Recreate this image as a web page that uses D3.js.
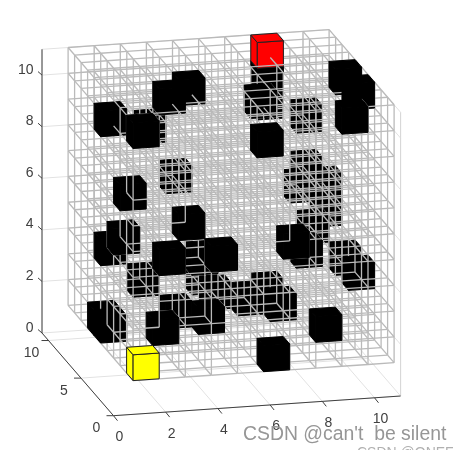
<!DOCTYPE html>
<html><head><meta charset="utf-8">
<script src="https://cdn.jsdelivr.net/npm/d3@7/dist/d3.min.js"></script>
<style>html,body{margin:0;padding:0;background:#fff;overflow:hidden}svg{display:block;filter:blur(0.35px)}text{font-family:"Liberation Sans",Arial,sans-serif;white-space:pre}</style>
</head><body><svg id="c" width="462" height="450"></svg>
<script>
// Data: obstacle cells (lower corner), start and goal cells, ticks
const cubeX=[1,1,3,3,4,4,1,3,1,1,2,2,1,1,2,3,4,6,8,10,10,8,7,10,10,9,6,9,8,7,8,9,9,10,10,9,4,7,6,7,5,4,5];
const cubeY=[6,1,8,5,6,8,3,2,6,4,1,5,6,7,2,4,3,1,1,4,6,4,2,6,4,1,2,8,10,7,10,8,9,9,9,7,1,4,5,6,6,4,8];
const cubeZ=[9,10,8,10,10,6,7,6,4,5,5,3,1,1,2,2,2,1,2,3,3,4,5,10,10,10,9,8,9,9,8,6,5,5,4,4,5,2,2,2,2,4,2];
const startCell=[1,1,1], goalCell=[8,10,10];
const xTicks=[0,2,4,6,8,10], yTicks=[0,5,10], zTicks=[0,2,4,6,8,10];
const gridLevels=[1,2,3,4,5,6,7,8,9,10,11];
const axisMax=11;

// Orthographic projection built from linear scales
const xToX=d3.scaleLinear().domain([0,axisMax]).range([0,287.1]);
const yToX=d3.scaleLinear().domain([0,axisMax]).range([0,-71.5]);
const xToY=d3.scaleLinear().domain([0,axisMax]).range([0,-19.7]);
const yToY=d3.scaleLinear().domain([0,axisMax]).range([0,-82.7]);
const zToY=d3.scaleLinear().domain([0,axisMax]).range([0,-283.7]);
const px=(x,y)=>113.5+xToX(x)+yToX(y);
const py=(x,y,z)=>415.7+xToY(x)+yToY(y)+zToY(z);
const P=(x,y,z)=>[px(x,y),py(x,y,z)];
const depth=(x,y,z)=>167.7*x+673.4*y-207.4*z;

const svg=d3.select("#c");
const gridColor="#e2e2e2", axisColor="#404040", latticeColor="#bababa";
const seg=(g,a,b,col,w)=>g.append("line").attr("x1",a[0]).attr("y1",a[1]).attr("x2",b[0]).attr("y2",b[1]).attr("stroke",col).attr("stroke-width",w);

// pale axes grid on the walls and floor
const wall=svg.append("g");
xTicks.forEach(t=>{seg(wall,P(t,0,0),P(t,axisMax,0),gridColor,1);seg(wall,P(t,axisMax,0),P(t,axisMax,axisMax),gridColor,1);});
yTicks.forEach(t=>{seg(wall,P(0,t,0),P(axisMax,t,0),gridColor,1);seg(wall,P(axisMax,t,0),P(axisMax,t,axisMax),gridColor,1);});
zTicks.forEach(t=>{seg(wall,P(0,axisMax,t),P(axisMax,axisMax,t),gridColor,1);seg(wall,P(axisMax,axisMax,t),P(axisMax,0,t),gridColor,1);});
seg(wall,P(axisMax,0,0),P(axisMax,0,axisMax),"#d8d8d8",1);
seg(wall,P(axisMax,0,axisMax),P(axisMax,axisMax,axisMax),gridColor,1);
seg(wall,P(0,axisMax,axisMax),P(axisMax,axisMax,axisMax),gridColor,1);

// painter's list: lattice unit segments + cubes
const items=[];
const lv=gridLevels, steps=lv.slice(0,-1);
lv.forEach(a=>lv.forEach(b=>steps.forEach(s=>{
  items.push({t:"s",a:[s,a,b],b:[s+1,a,b],d:depth(s+.5,a,b)});
  items.push({t:"s",a:[a,s,b],b:[a,s+1,b],d:depth(a,s+.5,b)});
  items.push({t:"s",a:[a,b,s],b:[a,b,s+1],d:depth(a,b,s+.5)});
})));
// cubes sit forward of the lattice: fewer lines cross them, fewest in the top layers
const addCube=(x,y,z,fill,edge)=>items.push({t:"c",x,y,z,fill,edge,d:depth(x,y,z+1)-700-(z>=9?800:0)});
cubeX.forEach((x,i)=>addCube(x,cubeY[i],cubeZ[i],"#000","#000"));
addCube(...startCell,"#ffff00","#222");
addCube(...goalCell,"#ff0000","#222");
items.sort((p,q)=>q.d-p.d);

const poly=pts=>"M"+pts.map(p=>p.join(",")).join("L")+"Z";
const scene=svg.append("g");
scene.selectAll("g.i").data(items).join(enter=>enter.append("g").each(function(d){
  const g=d3.select(this);
  if(d.t==="s"){
    seg(g,P(...d.a),P(...d.b),latticeColor,1.3);
  }else{
    const {x,y,z}=d;
    const faces=[
      [[x,y,z],[x,y+1,z],[x,y+1,z+1],[x,y,z+1]],
      [[x,y,z],[x+1,y,z],[x+1,y,z+1],[x,y,z+1]],
      [[x,y,z+1],[x+1,y,z+1],[x+1,y+1,z+1],[x,y+1,z+1]]
    ];
    faces.forEach(f=>g.append("path").attr("d",poly(f.map(c=>P(...c)))).attr("fill",d.fill).attr("stroke",d.edge).attr("stroke-width",1).attr("stroke-linejoin","round"));
  }
}));

// axes
const ax=svg.append("g");
seg(ax,P(0,axisMax,0),P(0,axisMax,axisMax),axisColor,1);
seg(ax,P(0,0,0),P(0,axisMax,0),axisColor,1);
seg(ax,P(0,0,0),P(axisMax,0,0),axisColor,1);
const label=(x,y,s,anchor)=>svg.append("text").attr("x",x).attr("y",y).attr("text-anchor",anchor||"middle").attr("dominant-baseline","central").attr("font-size",14).attr("fill","#404040").text(s);
zTicks.forEach(t=>{const a=P(0,axisMax,t);seg(ax,a,[a[0]-4,a[1]-3.5],axisColor,1);label(a[0]-8.5,a[1]-6.5,String(t),"end");});
yTicks.forEach(t=>{const a=P(0,t,0);seg(ax,a,[a[0]-7,a[1]],axisColor,1);label(a[0]-17,a[1]+11.5,String(t));});
xTicks.forEach(t=>{const a=P(t,0,0);seg(ax,a,[a[0]+4,a[1]+5],axisColor,1);label(a[0]+6,a[1]+20.5,String(t));});

// watermarks
svg.append("text").attr("x",243).attr("y",440).attr("font-size",19.4).attr("fill","#969696").text("CSDN @can't  be silent");
svg.append("text").attr("x",357).attr("y",457).attr("font-size",14).attr("fill","#b0b0b0").text("CSDN @ONEF");
</script></body></html>
